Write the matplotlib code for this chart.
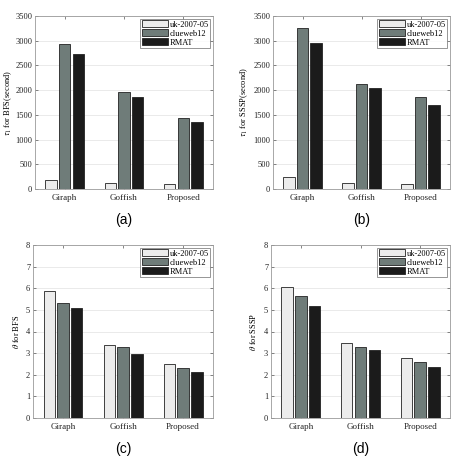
import matplotlib.pyplot as plt
import numpy as np

systems = ['Giraph', 'Goffish', 'Proposed']
datasets = ['uk-2007-05', 'clueweb12', 'RMAT']
colors = ['#ececec', '#6f7c79', '#1b1b1b']

# tempo para BFS e SSSP (segundos)
bfs_time = [[175, 114, 92], [2927, 1962, 1430], [2725, 1868, 1362]]
sssp_time = [[234, 125, 100], [3257, 2124, 1868], [2960, 2037, 1693]]
# theta
bfs_theta = [[5.88, 3.38, 2.49], [5.34, 3.28, 2.32], [5.08, 2.95, 2.12]]
sssp_theta = [[6.06, 3.49, 2.77], [5.63, 3.28, 2.57], [5.17, 3.14, 2.35]]

plt.rcParams['font.family'] = ['Liberation Serif', 'DejaVu Serif']
plt.rcParams['mathtext.fontset'] = 'stix'

fig = plt.figure(figsize=(4.74, 4.61), dpi=100)
W, H = 474, 461


def painel(l, t, r, b, valores, ymax, ystep, ylabel, letra, dx):
    ax = fig.add_axes([l / W, 1 - b / H, (r - l) / W, (b - t) / H])
    x = np.arange(1, 4)
    for i, serie in enumerate(valores):
        ax.bar(x + (i - 1) * 0.23, serie, width=0.19, color=colors[i],
               edgecolor='#222222', linewidth=0.6, label=datasets[i], zorder=3)
    ax.set_xlim(0.5, 3.5)
    ax.set_ylim(0, ymax)
    ax.set_yticks(np.arange(0, ymax + ystep / 2, ystep))
    ax.set_xticks(x)
    ax.set_xticklabels(systems, fontsize=6.5)
    ax.tick_params(axis='y', labelsize=6, direction='in', length=2, width=0.5,
                   right=True, colors='#555555', labelcolor='#222222', pad=2)
    ax.tick_params(axis='x', direction='in', length=2, width=0.5, top=True,
                   colors='#555555', labelcolor='#222222')
    ax.grid(axis='y', color='#e6e6e6', linewidth=0.6, zorder=0)
    for s in ax.spines.values():
        s.set_color('#9a9a9a')
        s.set_linewidth(0.6)
    ax.set_ylabel(ylabel, fontsize=6)
    # distância do rótulo ao eixo, em pixels
    ax.yaxis.set_label_coords(-dx / (r - l), 0.5)
    leg = ax.legend(loc='upper right', fontsize=6, handlelength=3.2,
                    handleheight=0.9, borderpad=0.15, labelspacing=0.1,
                    handletextpad=0.15, borderaxespad=0.35, fancybox=False)
    leg.get_frame().set_edgecolor('#666666')
    leg.get_frame().set_linewidth(0.6)
    fig.text((l + r) / 2 / W, 1 - (b + 31) / H, letra, ha='center', va='center',
             fontsize=10, family='Liberation Sans')
    return ax


painel(35, 16, 213, 189, bfs_time, 3500, 500, r'$\tau_1$ for BFS(second)', '(a)', 21)
painel(273, 16, 450, 189, sssp_time, 3500, 500, r'$\tau_1$ for SSSP(second)', '(b)', 23)
painel(33, 245, 213, 418, bfs_theta, 8, 1, r'$\theta$ for BFS', '(c)', 12)
painel(271, 245, 450, 418, sssp_theta, 8, 1, r'$\theta$ for SSSP', '(d)', 13)

plt.savefig('out.png', dpi=100)
